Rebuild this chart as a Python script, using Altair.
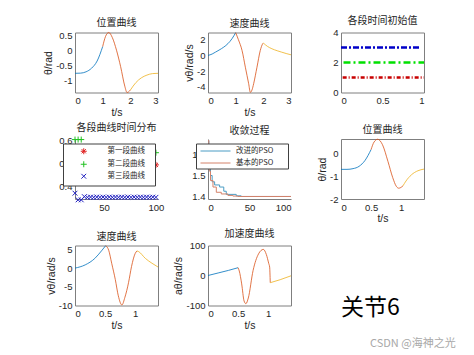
import altair as alt
import pandas as pd

W, H = 83, 60
SEG_COLORS = ["#0072BD", "#D95319", "#EDB120"]
CJK = "Noto Sans CJK SC"
LAT = "Liberation Sans"
LABEL_EXPR = "datum.value < 0 ? '-' + format(-datum.value, '~g') : format(datum.value, '~g')"
PAD1 = "\u2800"
PAD2 = "\u2800\u2800"

# ---------- panel 1: 位置曲线 (t 0..3) ----------
pos1_t1 = [0, 0.2, 0.4, 0.6, 0.8, 1.0]
pos1_v1 = [-0.77, -0.765, -0.72, -0.60, -0.36, 0.12]
pos1_t2 = [1.0, 1.1, 1.22, 1.35, 1.5, 1.65, 1.8, 1.88, 2.0]
pos1_v2 = [0.12, 0.45, 0.59, 0.42, 0.0, -0.55, -1.2, -1.41, -1.33]
pos1_t3 = [2.0, 2.2, 2.4, 2.6, 2.8, 3.0]
pos1_v3 = [-1.33, -1.08, -0.92, -0.83, -0.78, -0.77]

# ---------- panel 2: 速度曲线 (t 0..3) ----------
vel1_t1 = [0, 0.15, 0.27, 0.4, 0.57, 0.72, 0.87, 1.0]
vel1_v1 = [0, 0.18, 0.42, 0.68, 1.06, 1.5, 2.14, 2.9]
vel1_t2 = [1.0, 1.1, 1.23, 1.35, 1.47, 1.53, 1.59, 1.65, 1.77, 1.89, 1.98, 2.0]
vel1_v2 = [2.9, 2.0, 0.64, -1.5, -3.6, -4.7, -4.4, -3.6, -1.5, 0.64, 1.5, 1.58]
vel1_t3 = [2.0, 2.15, 2.31, 2.5, 2.66, 2.85, 3.0]
vel1_v3 = [1.58, 1.15, 0.85, 0.6, 0.42, 0.22, 0.08]

# ---------- panel 3: 各段时间初始值 ----------
init_y = [3, 2, 1]
init_x0 = [0.0, 0.03, 0.02]
init_x1 = [0.95, 1.0, 1.0]
init_colors = ["#0000c8", "#00e000", "#c80000"]
init_dash = [[6, 2, 2, 2], [7, 3, 2, 3], [4, 2, 1, 2]]

# ---------- panel 4: 各段曲线时间分布 ----------
dist_iter = [22, 25, 28, 31, 34, 37, 40, 43, 46, 49, 52, 55, 58, 61, 64,
             67, 70, 73, 76, 79, 82, 85, 88, 91, 94, 97, 100]
dist_seg1 = [0.494, 0.494, 0.494, 0.494, 0.494, 0.494, 0.494, 0.494, 0.494,
             0.494, 0.494, 0.494, 0.494, 0.494, 0.494, 0.494, 0.494, 0.494,
             0.494, 0.494, 0.494, 0.494, 0.494, 0.494, 0.494, 0.494, 0.494]
dist_seg2 = [0.604, 0.604, 0.604, 0.547, 0.547, 0.547, 0.547, 0.547, 0.547,
             0.547, 0.547, 0.547, 0.547, 0.547, 0.547, 0.547, 0.547, 0.547,
             0.547, 0.547, 0.547, 0.547, 0.547, 0.547, 0.547, 0.547, 0.547]
dist_seg3 = [0.371, 0.342, 0.342, 0.356, 0.353, 0.354, 0.353, 0.354, 0.353,
             0.354, 0.353, 0.354, 0.353, 0.354, 0.353, 0.354, 0.353, 0.354,
             0.353, 0.354, 0.353, 0.354, 0.353, 0.354, 0.353, 0.354, 0.353]
dist_names = ["第一段曲线" + PAD1, "第二段曲线" + PAD1, "第三段曲线" + PAD1]

# ---------- panel 5: 收敛过程 ----------
imp_it = [0, 1, 2, 3, 5, 8, 14, 19, 22, 34, 40, 100]
imp_v = [1.667, 1.62, 1.56, 1.50, 1.47, 1.455, 1.445, 1.425, 1.41, 1.403, 1.40, 1.40]
bas_it = [0, 1, 2, 3, 6, 10, 16, 24, 30, 36, 100]
bas_v = [1.667, 1.60, 1.52, 1.476, 1.445, 1.42, 1.412, 1.405, 1.402, 1.40, 1.40]
pso_names = ["改进的PSO" + PAD2, "基本的PSO" + PAD2]

# ---------- panel 6: 位置曲线 (t 0..1.38) ----------
pos2_t1 = [0, 0.1, 0.2, 0.3, 0.4, 0.5]
pos2_v1 = [-0.71, -0.71, -0.68, -0.58, -0.32, 0.15]
pos2_t2 = [0.5, 0.55, 0.61, 0.69, 0.78, 0.86, 0.92, 0.96, 1.03]
pos2_v2 = [0.15, 0.48, 0.60, 0.36, -0.36, -1.07, -1.45, -1.53, -1.43]
pos2_t3 = [1.03, 1.08, 1.17, 1.28, 1.38]
pos2_v3 = [-1.43, -1.22, -0.95, -0.77, -0.70]

# ---------- panel 7: 速度曲线 (t 0..1.38) ----------
vel2_t1 = [0, 0.17, 0.33, 0.44, 0.51]
vel2_v1 = [0, 0.87, 2.6, 4.6, 6.0]
vel2_t2 = [0.51, 0.56, 0.61, 0.67, 0.72, 0.78, 0.83, 0.89, 0.94, 1.0, 1.03]
vel2_v2 = [6.0, 4.8, 1.3, -3.05, -7.4, -9.85, -7.8, -3.9, 0.44, 3.9, 4.6]
vel2_t3 = [1.03, 1.06, 1.17, 1.28, 1.38]
vel2_v3 = [4.6, 4.4, 2.6, 1.3, 0.3]

# ---------- panel 8: 加速度曲线 (t 0..1.38) ----------
acc_t1 = [0, 0.18, 0.34, 0.5]
acc_v1 = [0, 9, 17, 26]
acc_t2 = [0.5, 0.52, 0.56, 0.6, 0.63, 0.67, 0.75, 0.84, 0.92, 0.97, 1.01, 1.025, 1.035]
acc_v2 = [26, 15, -28, -85, -94, -75, 17, 72, 87, 70, 40, 28, -24]
acc_t3 = [1.035, 1.2, 1.38]
acc_v3 = [-24, -14, -1]


def ax(values, title=None, domain=False):
    return alt.Axis(values=values, labelExpr=LABEL_EXPR, ticks=False, grid=False,
                    domain=domain, labelPadding=3, title=title)


def line_panel(segs, title, xdom, ydom, xvals, yvals, ytitle):
    layers = []
    for (ts, vs), col in zip(segs, SEG_COLORS):
        df = pd.DataFrame({"t": ts, "v": vs})
        layers.append(
            alt.Chart(df).mark_line(color=col, strokeWidth=1, opacity=0.8,
                                    interpolate="monotone").encode(
                x=alt.X("t:Q", scale=alt.Scale(domain=xdom, nice=False, zero=False),
                        axis=ax(xvals, "t/s")),
                y=alt.Y("v:Q", scale=alt.Scale(domain=ydom, nice=False, zero=False),
                        axis=ax(yvals, ytitle)),
            )
        )
    return alt.layer(*layers).properties(width=W, height=H, title=title)


p1 = line_panel([(pos1_t1, pos1_v1), (pos1_t2, pos1_v2), (pos1_t3, pos1_v3)],
                "位置曲线", [0, 3], [-1.41, 0.59], [0, 1, 2, 3], [0.5, 0, -0.5, -1], "θ/rad")
p2 = line_panel([(vel1_t1, vel1_v1), (vel1_t2, vel1_v2), (vel1_t3, vel1_v3)],
                "速度曲线", [0, 3], [-4.72, 2.92], [0, 1, 2, 3], [2, 0, -2, -4], "vθ/rad/s")

# panel 3
p3_layers = []
for yv, x0, x1, col, dash in zip(init_y, init_x0, init_x1, init_colors, init_dash):
    df = pd.DataFrame({"x": [x0], "x2": [x1], "y": [yv]})
    p3_layers.append(
        alt.Chart(df).mark_rule(color=col, strokeWidth=2.5, strokeDash=dash).encode(
            x=alt.X("x:Q", scale=alt.Scale(domain=[0, 1], nice=False), axis=ax([0, 0.5, 1])),
            x2="x2:Q",
            y=alt.Y("y:Q", scale=alt.Scale(domain=[0, 4], nice=False), axis=ax([0, 2, 4])),
        )
    )
p3 = alt.layer(*p3_layers).properties(width=W, height=H, title="各段时间初始值")

# panel 4
rows = []
for name, vals in zip(dist_names, [dist_seg1, dist_seg2, dist_seg3]):
    for it, v in zip(dist_iter, vals):
        rows.append({"it": it, "v": v, "seg": name})
df4 = pd.DataFrame(rows)
SHAPES = ["M-1,0L1,0M0,-1L0,1M-0.7,-0.7L0.7,0.7M-0.7,0.7L0.7,-0.7",
          "M-1,0L1,0M0,-1L0,1",
          "M-0.8,-0.8L0.8,0.8M-0.8,0.8L0.8,-0.8"]
leg4 = alt.Legend(orient="none", legendX=-12, legendY=4.5, title=None, fillColor="white",
                  strokeColor="#404040", padding=4, labelFont=CJK, labelFontSize=7.5,
                  labelColor="#262626", symbolStrokeWidth=1, symbolSize=36, rowPadding=2,
                  symbolOffset=13, labelOffset=20, zindex=1, symbolFillColor="transparent")
p4 = alt.Chart(df4).mark_point(filled=False, strokeWidth=1, size=36, opacity=1).encode(
    x=alt.X("it:Q", scale=alt.Scale(domain=[22, 102], nice=False, zero=False),
            axis=ax([50, 100], domain=True)),
    y=alt.Y("v:Q", scale=alt.Scale(domain=[0.3457, 0.6065], nice=False, zero=False),
            axis=ax([0.4, 0.5, 0.6], domain=True)),
    color=alt.Color("seg:N", scale=alt.Scale(domain=dist_names,
                                             range=["#e02020", "#20c020", "#2020c0"]),
                    legend=leg4),
    shape=alt.Shape("seg:N", scale=alt.Scale(domain=dist_names, range=SHAPES), legend=leg4),
).properties(width=W, height=H, title="各段曲线时间分布",
             view=alt.ViewBackground(stroke="transparent"))

# panel 5
rows = []
for name, its, vals in zip(pso_names, [imp_it, bas_it], [imp_v, bas_v]):
    for it, v in zip(its, vals):
        rows.append({"it": it, "v": v, "s": name})
df5 = pd.DataFrame(rows)
leg5 = alt.Legend(orient="none", legendX=-12, legendY=4.5, title=None, fillColor="white",
                  strokeColor="#404040", padding=2, labelFont=CJK, labelFontSize=7.5,
                  labelColor="#262626", symbolType="M-3,0L3,0", symbolSize=100,
                  symbolStrokeWidth=1, rowPadding=3, symbolOffset=12, labelOffset=15,
                  zindex=1)
p5 = alt.Chart(df5).mark_line(strokeWidth=1, interpolate="step-after").encode(
    x=alt.X("it:Q", scale=alt.Scale(domain=[0, 100], nice=False),
            axis=ax([0, 50, 100], domain=True)),
    y=alt.Y("v:Q", scale=alt.Scale(domain=[1.388, 1.674], nice=False, zero=False),
            axis=ax([1.4, 1.5, 1.6], domain=True)),
    color=alt.Color("s:N", scale=alt.Scale(domain=pso_names, range=["#4a9cc4", "#d4826a"]),
                    legend=leg5),
).properties(width=W, height=H, title="收敛过程",
             view=alt.ViewBackground(stroke="transparent"))

p6 = line_panel([(pos2_t1, pos2_v1), (pos2_t2, pos2_v2), (pos2_t3, pos2_v3)],
                "位置曲线", [0, 1.38], [-2, 0.61], [0, 0.5, 1], [0, -1, -2], "θ/rad")
p7 = line_panel([(vel2_t1, vel2_v1), (vel2_t2, vel2_v2), (vel2_t3, vel2_v3)],
                "速度曲线", [0, 1.38], [-10, 6.05], [0, 0.5, 1], [5, 0, -5, -10], "vθ/rad/s")
p8 = line_panel([(acc_t1, acc_v1), (acc_t2, acc_v2), (acc_t3, acc_v3)],
                "加速度曲线", [0, 1.38], [-100, 100], [0, 0.5, 1], [100, 0, -100], "aθ/rad/s")

# cell 9: text
joint_label = ["关节6"]
mark_label = ["CSDN @海神之光"]
t1 = alt.Chart(pd.DataFrame({"s": joint_label})).mark_text(
    align="left", baseline="middle", font=CJK, fontSize=23, color="#000000").encode(
    text="s:N", x=alt.value(0), y=alt.value(62))
t2 = alt.Chart(pd.DataFrame({"s": mark_label})).mark_text(
    align="left", baseline="middle", font=CJK, fontSize=11, color="#a8a8a8").encode(
    text="s:N", x=alt.value(29), y=alt.value(98))
p9 = alt.layer(t1, t2).properties(width=W, height=H,
                                   view=alt.ViewBackground(stroke="transparent"))

chart = alt.concat(p1, p2, p3, p4, p5, p6, p7, p8, p9, columns=3,
                   spacing={"row": 46.5, "column": 50}, bounds="flush").resolve_scale(
    color="independent", shape="independent"
).properties(
    padding={"left": 43, "top": 14.5, "right": 0, "bottom": 0},
    background="white"
).configure_view(
    stroke="#7f7f7f", strokeWidth=1
).configure_title(
    font=CJK, fontSize=10, fontWeight="normal", color="#262626", offset=2, anchor="middle"
).configure_axis(
    labelFont=LAT, labelFontSize=9.5, labelColor="#262626", titleFont=LAT,
    titleFontSize=10.5, titleFontWeight="normal", titleColor="#262626",
    domainColor="#7f7f7f", titlePadding=2
)

chart.save("out.html", embed_options={"renderer": "svg", "actions": False})
